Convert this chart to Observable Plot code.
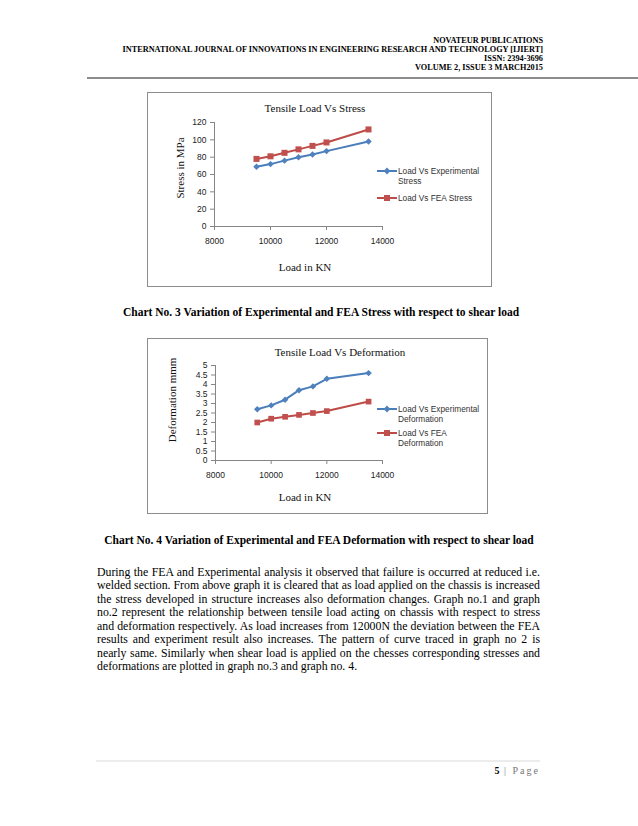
<!DOCTYPE html>
<html>
<head>
<meta charset="utf-8">
<script src="https://cdn.jsdelivr.net/npm/d3@7"></script>
<script src="https://cdn.jsdelivr.net/npm/@observablehq/plot@0.6"></script>
<style>
  html, body { margin:0; padding:0; background:#fff; }
  #page { position:relative; width:638px; height:826px; overflow:hidden; font-family:"Liberation Serif", "Times New Roman", serif; color:#000; }
  .abs { position:absolute; white-space:nowrap; line-height:1; }
  .c { transform:translate(-50%,-50%); }
  .rot { transform:translate(-50%,-50%) rotate(-90deg); }
  .hdr { position:absolute; right:95px; font-weight:bold; font-size:8.25px; line-height:1; white-space:nowrap; transform:translateY(-50%); }
  .frame { position:absolute; border:1px solid #8c8c8c; box-sizing:border-box; background:#fff; }
  .frame svg { position:absolute; left:0; top:0; }
  .ctitle { font-size:11px; color:#111; }
  .sans { font-family:"Liberation Sans", Arial, sans-serif; font-size:8.3px; color:#333; }
  .cap { font-weight:bold; font-size:11.5px; }
  #para { position:absolute; left:97px; top:566px; width:443px; font-size:11.8px; line-height:13.45px; }
  #para div { text-align:justify; text-align-last:justify; white-space:nowrap; }
  #para div.last { text-align-last:left; }
</style>
</head>
<body>
<div id="page">
  <div class="hdr" style="top:41px">NOVATEUR PUBLICATIONS</div>
  <div class="hdr" style="top:50px">INTERNATIONAL JOURNAL OF INNOVATIONS IN ENGINEERING RESEARCH AND TECHNOLOGY [IJIERT]</div>
  <div class="hdr" style="top:59px">ISSN: 2394-3696</div>
  <div class="hdr" style="top:68px">VOLUME 2, ISSUE 3 MARCH2015</div>
  <div style="position:absolute; left:87px; top:77px; width:551px; height:2px; background:#8c8c8c;"></div>

  <div id="f1" class="frame" style="left:147px; top:92px; width:345px; height:195px;"></div>
  <div id="f2" class="frame" style="left:147px; top:338px; width:341px; height:176px;"></div>

  <div class="abs c cap" style="left:321px; top:313px;">Chart No. 3 Variation of Experimental and FEA Stress with respect to shear load</div>
  <div class="abs c cap" style="left:319px; top:541px;">Chart No. 4 Variation of Experimental and FEA Deformation with respect to shear load</div>

  <div id="para">
    <div>During the FEA and Experimental analysis it observed that failure is occurred at reduced i.e.</div>
    <div>welded section. From above graph it is cleared that as load applied on the chassis is increased</div>
    <div>the stress developed in structure increases also deformation changes. Graph no.1 and graph</div>
    <div>no.2 represent the relationship between tensile load acting on chassis with respect to stress</div>
    <div>and deformation respectively. As load increases from 12000N the deviation between the FEA</div>
    <div>results and experiment result also increases. The pattern of curve traced in graph no 2 is</div>
    <div>nearly same. Similarly when shear load is applied on the chesses corresponding stresses and</div>
    <div class="last">deformations are plotted in graph no.3 and graph no. 4.</div>
  </div>

  <div style="position:absolute; left:96px; top:760px; width:444px; height:2px; background:#ececec;"></div>
  <div class="abs" style="right:98px; top:766px; font-size:10px;"><b>5</b><span style="color:#777; letter-spacing:2px;"> | Page</span></div>
</div>
<script>
const loads = [9500, 10000, 10500, 11000, 11500, 12000, 13500];
const expStress = [69, 72, 76, 80, 83, 87, 98];
const feaStress = [78, 81, 85, 89, 93, 97, 112];
const expDeform = [2.7, 2.9, 3.2, 3.7, 3.9, 4.3, 4.6];
const feaDeform = [2.0, 2.2, 2.3, 2.4, 2.5, 2.6, 3.1];
const xTicks = [8000, 10000, 12000, 14000];
const stressTicks = [0, 20, 40, 60, 80, 100, 120];
const deformTicks = [0, 0.5, 1, 1.5, 2, 2.5, 3, 3.5, 4, 4.5, 5];

const BLUE = "#4A7EBB", BLUEM = "#4F81BD", RED = "#BE4B48", REDM = "#C0504D", AXIS = "#868686";

function series(ys) { return loads.map((x, i) => ({x, y: ys[i]})); }

function chart({w, h, ml, mr, mt, mb, ydom, yticks, exp, fea, sq}) {
  const E = series(exp), F = series(fea);
  return Plot.plot({
    width: w, height: h, marginLeft: ml, marginRight: mr, marginTop: mt, marginBottom: mb,
    style: {fontFamily: "'Liberation Sans', Arial, sans-serif", fontSize: "8.5px", color: "#222", background: "transparent", overflow: "visible"},
    x: {domain: [8000, 14000]},
    y: {domain: ydom},
    marks: [
      Plot.axisX({ticks: xTicks, tickSize: 4, tickPadding: 7, stroke: AXIS, label: null, tickFormat: d => String(d)}),
      Plot.axisY({ticks: yticks, tickSize: 4, tickPadding: 4, stroke: AXIS, label: null, tickFormat: d => String(d)}),
      Plot.ruleX([8000], {stroke: AXIS}),
      Plot.ruleY([0], {stroke: AXIS}),
      Plot.line(E, {x: "x", y: "y", stroke: BLUE, strokeWidth: 2}),
      Plot.line(F, {x: "x", y: "y", stroke: RED, strokeWidth: 2}),
      Plot.dot(E, {x: "x", y: "y", symbol: "diamond2", r: 2.9, fill: BLUEM, stroke: "none"}),
      Plot.dot(F, {x: "x", y: "y", symbol: "square", r: sq, fill: REDM, stroke: "none"})
    ]
  });
}

document.getElementById("f1").append(chart({w: 343, h: 193, ml: 66, mr: 109, mt: 29, mb: 60, ydom: [0, 120], yticks: stressTicks, exp: expStress, fea: feaStress, sq: 3.4}));
document.getElementById("f2").append(chart({w: 339, h: 174, ml: 67, mr: 105, mt: 26, mb: 53, ydom: [0, 5], yticks: deformTicks, exp: expDeform, fea: feaDeform, sq: 3.2}));

// overlay texts and legends
const page = document.getElementById("page");
function txt(html, x, y, cls) {
  const d = document.createElement("div");
  d.className = "abs " + cls;
  d.style.left = x + "px"; d.style.top = y + "px";
  d.innerHTML = html;
  page.append(d);
}
txt("Tensile Load Vs Stress", 315, 108, "c ctitle");
txt("Load in KN", 305, 267, "c ctitle");
txt("Stress in MPa", 180, 168, "rot ctitle");
txt("Tensile Load Vs Deformation", 340, 352, "c ctitle");
txt("Load in KN", 305, 497, "c ctitle");
txt("Deformation mmm", 172, 400, "rot ctitle");

function legendItem(x, y, color, mcolor, shape, lines) {
  const s = document.createElementNS("http://www.w3.org/2000/svg", "svg");
  s.setAttribute("width", 22); s.setAttribute("height", 10);
  s.style.position = "absolute"; s.style.left = x + "px"; s.style.top = (y - 5) + "px";
  let m = shape === "d"
    ? `<path d="M10,1.6 L13.4,5 L10,8.4 L6.6,5Z" fill="${mcolor}"/>`
    : `<rect x="7" y="2" width="6" height="6" fill="${mcolor}"/>`;
  s.innerHTML = `<line x1="0" y1="5" x2="20" y2="5" stroke="${color}" stroke-width="2"/>` + m;
  page.append(s);
  lines.forEach((l, i) => {
    const d = document.createElement("div");
    d.className = "abs sans";
    d.style.left = (x + 21) + "px";
    d.style.top = (y - 4.5 + i * 10) + "px";
    d.textContent = l;
    page.append(d);
  });
}
legendItem(377, 171, BLUE, BLUEM, "d", ["Load Vs Experimental", "Stress"]);
legendItem(377, 198, RED, REDM, "s", ["Load Vs FEA Stress"]);
legendItem(377, 409, BLUE, BLUEM, "d", ["Load Vs Experimental", "Deformation"]);
legendItem(377, 433, RED, REDM, "s", ["Load Vs FEA", "Deformation"]);
</script>
</body>
</html>
